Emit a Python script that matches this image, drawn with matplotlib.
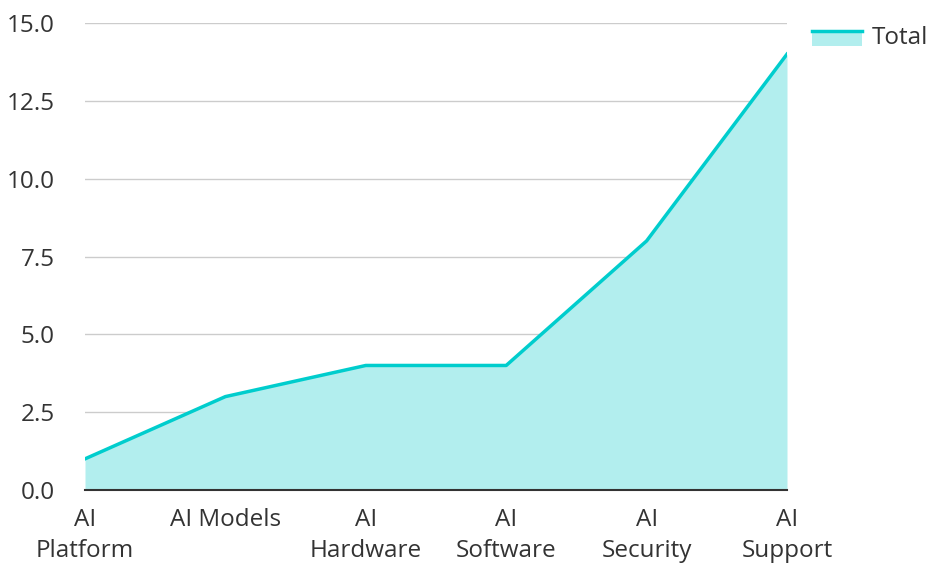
import matplotlib
matplotlib.use('Agg')
import matplotlib.pyplot as plt
from matplotlib.patches import Rectangle
from matplotlib.lines import Line2D
from matplotlib.legend_handler import HandlerBase

categories = ['AI\nPlatform', 'AI Models', 'AI\nHardware', 'AI\nSoftware', 'AI\nSecurity', 'AI\nSupport']
total = [1, 3, 4, 4, 8, 14]
y_ticks = [0.0, 2.5, 5.0, 7.5, 10.0, 12.5, 15.0]

line_color = '#00CDCD'
fill_color = '#B2EEEE'
text_color = '#333333'

plt.rcParams['font.family'] = ['Open Sans', 'DejaVu Sans']


# legend key: filled box with the line on its top edge
class AreaHandler(HandlerBase):
    def create_artists(self, legend, orig, xd, yd, w, h, fs, trans):
        top = yd + h * 0.75
        bot = yd - h * 0.15
        rect = Rectangle((xd, bot), w, top - bot,
                         facecolor=fill_color, edgecolor='none', transform=trans)
        ln = Line2D([xd, xd + w], [top, top], color=line_color, linewidth=2.5, transform=trans)
        return [rect, ln]


fig = plt.figure(figsize=(9.29, 5.64), dpi=100)
ax = fig.add_axes([85 / 929, 1 - 490 / 564, (787 - 85) / 929, (490 - 23) / 564])

x = list(range(len(categories)))
ax.fill_between(x, total, 0, color=fill_color, linewidth=0)
ax.plot(x, total, color=line_color, linewidth=2.5)

ax.set_xlim(0, len(categories) - 1)
ax.set_ylim(0, 15)
ax.set_yticks(y_ticks)
ax.set_yticklabels([f'{v:.1f}' for v in y_ticks])
ax.set_xticks(x)
ax.set_xticklabels(categories, linespacing=1.4)

ax.grid(axis='y', color='#cccccc', linewidth=1)
ax.set_axisbelow(True)
for s in ['top', 'right', 'left']:
    ax.spines[s].set_visible(False)
ax.spines['bottom'].set_color('#333333')
ax.spines['bottom'].set_linewidth(1.5)
ax.tick_params(axis='both', length=0, labelsize=17.5, colors=text_color)
ax.tick_params(axis='y', pad=22)
ax.tick_params(axis='x', pad=13)

fig.legend(handles=[Rectangle((0, 0), 1, 1)], labels=['Total'], loc='upper left',
           bbox_to_anchor=(790 / 929, 1 - 4 / 564), frameon=False, fontsize=17.5,
           labelcolor=text_color, handlelength=2.05, handletextpad=0.4,
           handler_map={Rectangle: AreaHandler()})

fig.savefig('out.png', dpi=100)
